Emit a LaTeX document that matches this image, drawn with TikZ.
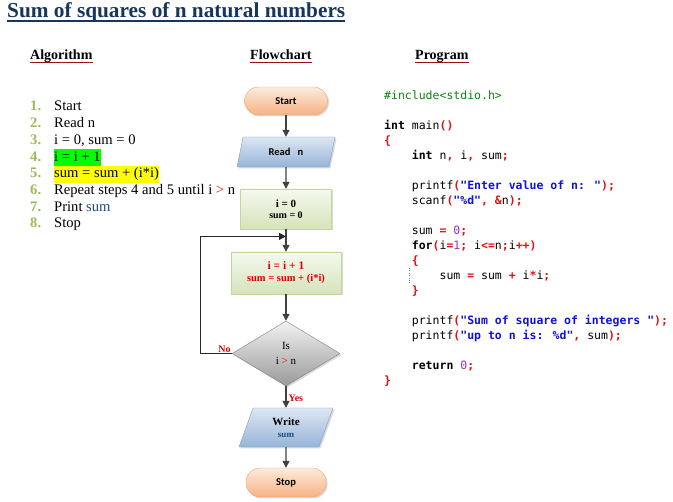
\documentclass[tikz,border=0pt]{standalone}
\usepackage{fontspec}
\setmainfont{Liberation Serif}
\newfontfamily\calfont{Carlito}
\newfontfamily\codefont{DejaVu Sans Mono}
\usetikzlibrary{positioning,arrows.meta,shapes.geometric,shadows,calc}

\definecolor{titlenavy}{HTML}{17365D}
\definecolor{hdrred}{HTML}{A01010}
\definecolor{numgreen}{HTML}{9BBB59}
\definecolor{sumnavy}{HTML}{1F497D}
\definecolor{hlgreen}{HTML}{00FF00}
\definecolor{hlyellow}{HTML}{FFFF00}
\definecolor{opred}{HTML}{E01010}
\definecolor{strblue}{HTML}{1010E0}
\definecolor{numpurple}{HTML}{A030C0}
\definecolor{incgreen}{HTML}{108010}
\definecolor{startTop}{HTML}{FDEBDD}
\definecolor{startBot}{HTML}{F7B283}
\definecolor{startLine}{HTML}{F2A46E}
\definecolor{ioTop}{HTML}{DDE7F3}
\definecolor{ioBot}{HTML}{97B4D8}
\definecolor{ioLine}{HTML}{7F9FC9}
\definecolor{boxTop}{HTML}{F5F9EE}
\definecolor{boxBot}{HTML}{D5E3BA}
\definecolor{boxLine}{HTML}{C3D69B}

\newcommand\stepno[1]{\makebox[24pt][l]{\textcolor{numgreen}{\textbf{#1}}}}
\newcommand\hlbox[2]{{\setlength\fboxsep{0pt}\colorbox{#1}{\strut #2}}}
\newcommand\kw[1]{\textbf{#1}}
\newcommand\op[1]{\textcolor{opred}{\textbf{#1}}}
\newcommand\str[1]{\textcolor{strblue}{\textbf{#1}}}
\newcommand\nm[1]{\textcolor{numpurple}{#1}}
\newcommand\cind{\phantom{0000}}

\begin{document}
\begin{tikzpicture}[
  x=1pt, y=-1pt,
  hdr/.style={anchor=base west, inner sep=0pt, font=\fontsize{14}{16}\selectfont\bfseries},
  hdrline/.style={draw=hdrred, line width=0.9pt},
  algline/.style={anchor=base west, inner sep=0pt, font=\fontsize{14.6}{16.7}\selectfont},
  shade/.style={drop shadow={opacity=0.3, shadow xshift=1.5pt, shadow yshift=-1.5pt}},
  terminal/.style={rectangle, rounded corners=14pt, draw=startLine, top color=startTop,
                   bottom color=startBot, minimum height=28pt, shade,
                   font=\calfont\fontsize{10.5}{12}\selectfont\bfseries},
  io/.style={trapezium, trapezium left angle=57, trapezium right angle=123,
             trapezium stretches body, draw=ioLine, top color=ioTop, bottom color=ioBot,
             shade, align=center, inner sep=1pt},
  process/.style={rectangle, draw=boxLine, top color=boxTop, bottom color=boxBot,
                  shade, align=center, inner sep=1pt, font=\bfseries},
  decision/.style={diamond, draw=black!50, top color=black!5, bottom color=black!40,
                   shade, align=center, inner sep=0pt, minimum width=108pt, minimum height=65pt},
  flow/.style={draw=black!75, line width=1.3pt, -{Triangle[length=7pt,width=7pt]}},
  back/.style={draw=black!85, line width=0.9pt, -{Triangle[length=7pt,width=7pt]}},
  tag/.style={font=\fontsize{10}{12}\selectfont\bfseries, text=red!85!black, inner sep=2pt},
  code/.style={anchor=north west, inner sep=0pt, align=left,
               font=\codefont\fontsize{11.5}{15}\selectfont},
]
\useasboundingbox (0,0) rectangle (673,502);

% Title and column headings
\node[anchor=base west, inner sep=0pt, text=titlenavy,
      font=\fontsize{21.3}{24}\selectfont\bfseries] (title) at (7,18)
  {Sum of squares of n natural numbers};
\draw[draw=titlenavy, line width=1.3pt]
  ([yshift=-3pt]title.base west) -- ([yshift=-3pt]title.base east);

\node[hdr] (algo)  at (30,60)  {Algorithm};
\node[hdr] (chart) at (250,60) {Flowchart};
\node[hdr] (prog)  at (415,60) {Program};
\foreach \h in {algo,chart,prog}
  \draw[hdrline] ([yshift=-2.5pt]\h.base west) -- ([yshift=-2.5pt]\h.base east);

% Algorithm steps
\node[algline] (s1) at (30,111) {\stepno{1.}Start};
\node[algline] (s2) at (30,127.7) {\stepno{2.}Read n};
\node[algline] (s3) at (30,144.4) {\stepno{3.}i = 0, sum = 0};
\node[algline] (s4) at (30,161.1) {\stepno{4.}\hlbox{hlgreen}{i = i + 1}};
\node[algline] (s5) at (30,177.8) {\stepno{5.}\hlbox{hlyellow}{sum = sum + (i*i)}};
\node[algline] (s6) at (30,194.5)
  {\stepno{6.}Repeat steps 4 and 5 until i \textcolor{red}{>} n};
\node[algline] (s7) at (30,211.2) {\stepno{7.}Print \textcolor{sumnavy}{sum}};
\node[algline] (s8) at (30,227.9) {\stepno{8.}Stop};

% Flowchart
\node[terminal, minimum width=83pt] (start) at (286,101) {Start};
\node[io, minimum width=98pt, minimum height=30pt,
      font=\calfont\fontsize{10.5}{12}\selectfont\bfseries] (read) at (286,152)
  {Read\ \ \ n};
\node[process, minimum width=91pt, minimum height=40pt] (init) at (286,209)
  {{\fontsize{11}{12}\selectfont i = 0}\\[-0.5pt]{\fontsize{10}{12}\selectfont sum = 0}};
\node[process, minimum width=110pt, minimum height=42pt, text=red!90!black] (upd) at (286,273)
  {{\fontsize{11.5}{13}\selectfont i = i + 1}\\{\fontsize{10.5}{13}\selectfont sum = sum + (i*i)}};
\node[decision, font=\fontsize{11}{14.5}\selectfont] (dia) at (286,353.5)
  {Is\\i \textcolor{red}{>} n};
\node[io, minimum width=94pt, minimum height=39pt, font=\bfseries] (write) at (286,427.5)
  {{\fontsize{11}{13}\selectfont Write}\\{\fontsize{9}{13}\selectfont\textcolor{sumnavy}{sum}}};
\node[terminal, minimum width=80pt, minimum height=29pt] (stop) at (286,482.5) {Stop};

\coordinate (merge) at ($(init.south)!0.32!(upd.north)$);
\coordinate (loopx) at (200,0);

\draw[flow] (start) -- (read);
\draw[flow] (read) -- (init);
\draw[flow] (init) -- (upd);
\draw[flow] (upd) -- (dia);
\draw[flow] (dia) -- node[tag, right, pos=0.55] {Yes} (write);
\draw[flow] (write) -- (stop);
\draw[back] (dia.west) -- (dia.west -| loopx) |- (merge);
\node[tag, above left, inner sep=1pt] (no) at (dia.west) {No};

% Program listing
\node[code] (listing) at (384,90.5) {%
\textcolor{incgreen}{\#include<stdio.h>}\\[15pt]
\kw{int} main\op{()}\\
\op{\{}\\
\cind\kw{int} n\op{,} i\op{,} sum\op{;}\\[15pt]
\cind printf\op{(}\str{"Enter value of n: "}\op{);}\\
\cind scanf\op{(}\str{"\%d"}\op{,} \op{\&}n\op{);}\\[15pt]
\cind sum \op{=} \nm{0}\op{;}\\
\cind\kw{for}\op{(}i\op{=}\nm{1}\op{;} i\op{<=}n\op{;}i\op{++)}\\
\cind\op{\{}\\
\cind\cind sum \op{=} sum \op{+} i\op{*}i\op{;}\\
\cind\op{\}}\\[15pt]
\cind printf\op{(}\str{"Sum of square of integers "}\op{);}\\
\cind printf\op{(}\str{"up to n is: \%d"}\op{,} sum\op{);}\\[15pt]
\cind\kw{return} \nm{0}\op{;}\\
\op{\}}};
\draw[dotted, black!50] (409.5,268) -- (409.5,283);

\end{tikzpicture}
\end{document}
